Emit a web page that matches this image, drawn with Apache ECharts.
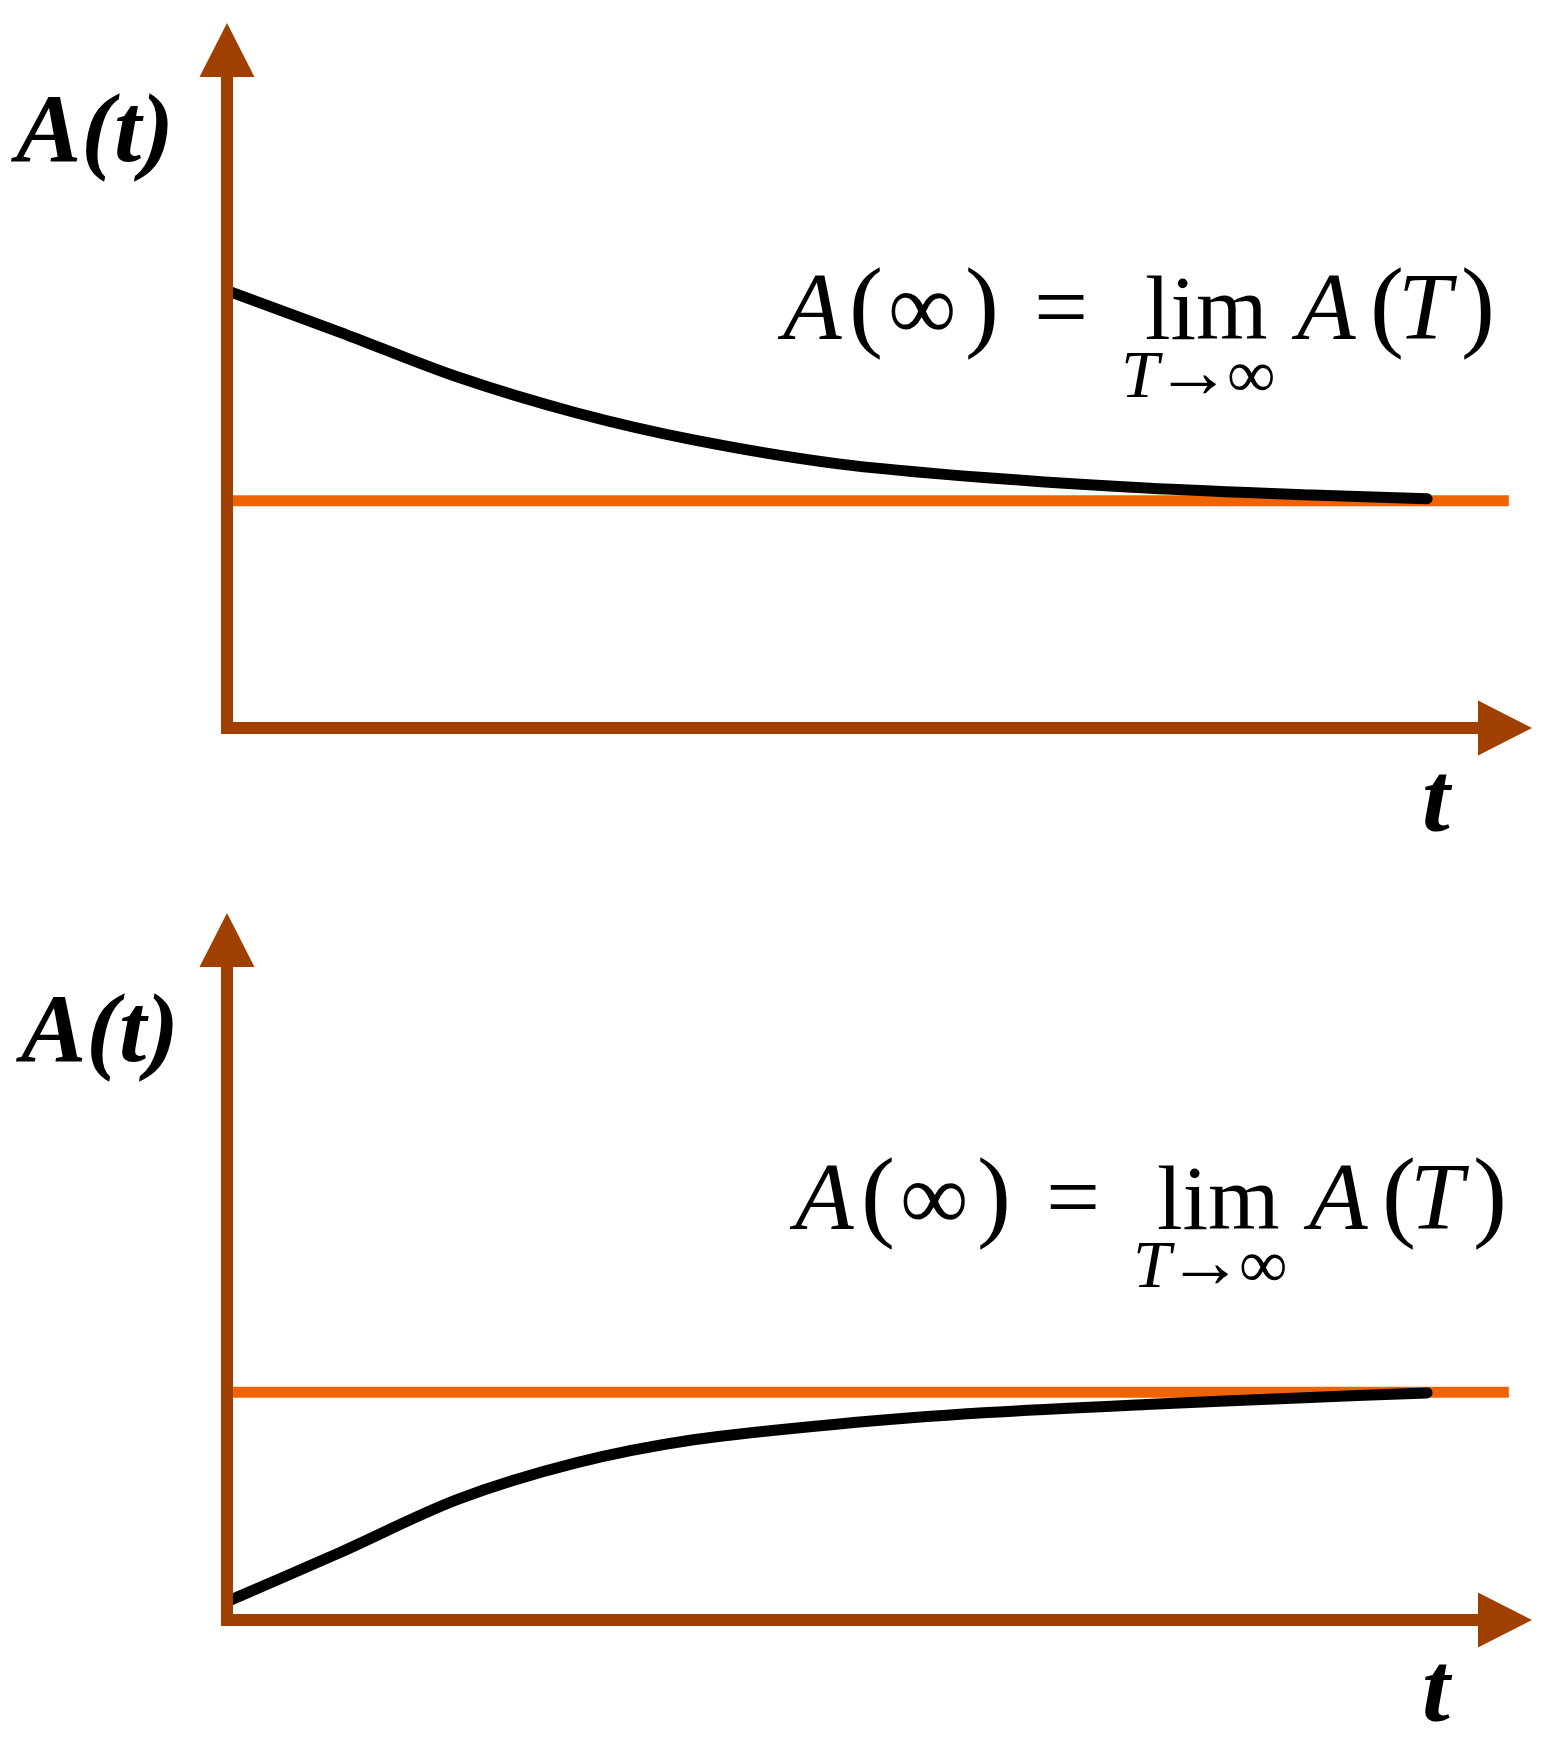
<!DOCTYPE html>
<html>
<head>
<meta charset="utf-8">
<title>A(t) limit</title>
<script src="https://cdn.jsdelivr.net/npm/echarts@6/dist/echarts.min.js"></script>
<style>
  html, body { margin: 0; padding: 0; background: #fff; }
  #main { width: 1553px; height: 1756px; }
</style>
</head>
<body>
<div id="main"></div>
<script>
// values, both axes run 0..100
var tDecay = [0, 8.8, 18.0, 27.3, 36.5, 47.7, 59.5, 71.9, 84.3, 93.9];
var aDecay = [64.5, 58.4, 51.8, 46.5, 42.5, 39.0, 36.9, 35.4, 34.4, 33.8];
var tGrow  = [0, 8.8, 18.0, 27.3, 36.5, 47.7, 59.5, 71.9, 84.3, 93.9];
var aGrow  = [2.7, 9.9, 17.7, 23.1, 26.5, 28.8, 30.5, 31.7, 32.7, 33.4];
var aLimitTop = 33.5;
var aLimitBottom = 33.5;
var limitSpan = [0, 100.3];
var axisRange = [0, 100];

var brown = '#A04000';
var orange = '#EF6400';
var serif = '"Liberation Serif", "Times New Roman", serif';

function pairs(ts, as) {
  return ts.map(function (t, i) { return [t, as[i]]; });
}

// text placed by its alphabetic baseline
function txt(x, base, str, size, style, align) {
  return {
    type: 'text',
    silent: true,
    style: {
      x: x,
      y: base - size * 0.33,
      text: str,
      font: style + ' ' + size + 'px ' + serif,
      fill: '#000',
      textAlign: align || 'left',
      textVerticalAlign: 'middle'
    }
  };
}

// A(∞) = lim_{T→∞} A(T), x0 = left of first A, y0 = baseline
function formula(x0, y0) {
  var F = 92, P = 102, S = 68;
  return [
    txt(x0, y0, 'A', F + 4, 'italic'),
    txt(x0 + 66, y0, '(', P, 'normal'),
    txt(x0 + 105, y0, '\u221E', F + 4, 'normal'),
    txt(x0 + 182, y0, ')', P, 'normal'),
    txt(x0 + 251, y0, '=', F + 4, 'normal'),
    txt(x0 + 362, y0, 'lim', F, 'normal'),
    txt(x0 + 514, y0, 'A', F + 4, 'italic'),
    txt(x0 + 587, y0, '(', P, 'normal'),
    txt(x0 + 615, y0, 'T', F + 4, 'italic'),
    txt(x0 + 678, y0, ')', P, 'normal'),
    txt(x0 + 338, y0 + 57, 'T', S, 'italic'),
    txt(x0 + 372, y0 + 57, '\u2192', 76, 'normal'),
    txt(x0 + 444, y0 + 57, '\u221E', S, 'normal')
  ];
}

var myChart = echarts.init(document.getElementById('main'));

function axis(i) {
  return {
    gridIndex: i,
    type: 'value',
    min: axisRange[0],
    max: axisRange[1],
    z: 5,
    axisLine: {
      show: true,
      onZero: false,
      symbol: ['none', 'triangle'],
      symbolSize: [55, 54],
      lineStyle: { color: brown, width: 12, cap: 'square' }
    },
    axisTick: { show: false },
    axisLabel: { show: false },
    splitLine: { show: false }
  };
}

var graphics = []
  .concat([
    txt(16, 168, 'A(t)', 98, 'italic bold'),
    txt(1436, 838, 't', 100, 'italic bold', 'center'),
    txt(21, 1068, 'A(t)', 98, 'italic bold'),
    txt(1436, 1728, 't', 100, 'italic bold', 'center')
  ])
  .concat(formula(783, 345))
  .concat(formula(795, 1235));

var option = {
  animation: false,
  backgroundColor: '#fff',
  grid: [
    { left: 227, right: 48, top: 50, height: 678 },
    { left: 227, right: 48, top: 940, height: 680 }
  ],
  xAxis: [axis(0), axis(1)],
  yAxis: [axis(0), axis(1)],
  graphic: graphics,
  series: [
    {
      type: 'line', xAxisIndex: 0, yAxisIndex: 0, silent: true,
      data: [[limitSpan[0], aLimitTop], [limitSpan[1], aLimitTop]],
      symbol: 'none',
      lineStyle: { color: orange, width: 11 }
    },
    {
      type: 'line', xAxisIndex: 0, yAxisIndex: 0, silent: true,
      data: pairs(tDecay, aDecay),
      smooth: 0.3,
      symbol: 'none',
      lineStyle: { color: '#000', width: 11, cap: 'round' }
    },
    {
      type: 'line', xAxisIndex: 1, yAxisIndex: 1, silent: true,
      data: [[limitSpan[0], aLimitBottom], [limitSpan[1], aLimitBottom]],
      symbol: 'none',
      lineStyle: { color: orange, width: 11 }
    },
    {
      type: 'line', xAxisIndex: 1, yAxisIndex: 1, silent: true,
      data: pairs(tGrow, aGrow),
      smooth: 0.3,
      symbol: 'none',
      lineStyle: { color: '#000', width: 11, cap: 'round' }
    }
  ]
};
myChart.setOption(option);
</script>
</body>
</html>
